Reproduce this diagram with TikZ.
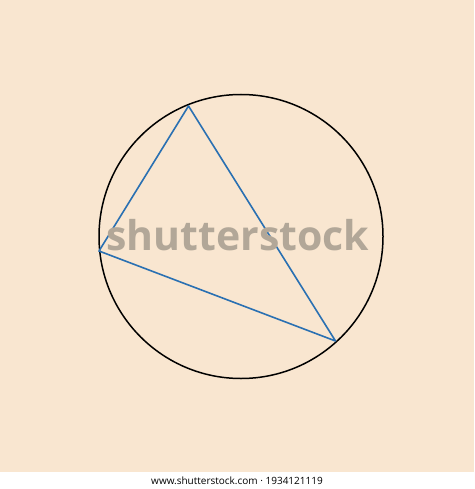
\documentclass[tikz,border=0pt]{standalone}
\usepackage{fontspec}
\setmainfont{Open Sans}
\usepackage{tikz}
\usetikzlibrary{positioning}

\definecolor{paper}{RGB}{249,230,208}
\definecolor{edgeblue}{RGB}{42,112,178}
\definecolor{mark}{RGB}{178,167,152}

\tikzset{
    ring/.style={draw=black, line width=1.5pt, circle, minimum size=284pt, inner sep=0pt},
    side/.style={draw=edgeblue, line width=1.6pt, line join=round}
}

\begin{document}
\begin{tikzpicture}[x=1pt, y=-1pt]
        % Sfondo
        \fill[paper] (0,0) rectangle (474,472);
        \fill[white] (0,472) rectangle (474,489);
        \useasboundingbox (0,0) rectangle (474,489);

        % Cerchio
        \node[ring] (ring) at (241,236.5) {};

        % Vertici del triangolo
        \coordinate (top) at (188.5,106);
        \coordinate (left) at (99,251);
        \coordinate (right) at (335.5,341);

        % Lati
        \draw[side] (top) -- (left) -- (right) -- cycle;

        % Scritte
        \node[text=mark, font=\fontsize{41}{41}\selectfont\bfseries] (brand) at (238,235) {shutterstock};
        \node[font=\fontsize{10}{10}\selectfont] (caption) at (237,481) {www.shutterstock.com · 1934121119};
    \end{tikzpicture}
\end{document}
